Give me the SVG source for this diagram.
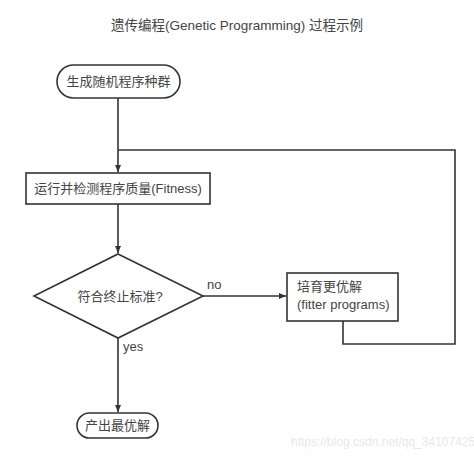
<svg xmlns="http://www.w3.org/2000/svg" width="474" height="459" viewBox="0 0 474 459">
<defs>
<style>
.shape{fill:#fff;stroke:#333;stroke-width:1.6}
.edge{fill:none;stroke:#333;stroke-width:1.6}
text{font-family:"Liberation Sans","Noto Sans CJK SC",sans-serif;font-size:13px;fill:#444}
.c{text-anchor:middle;dominant-baseline:central}
</style>
<marker id="arr" markerWidth="8" markerHeight="8" refX="7" refY="4" orient="auto" markerUnits="userSpaceOnUse">
<path d="M0,1 L7,4 L0,7 Z" fill="#333"/>
</marker>
</defs>
<rect width="474" height="459" fill="#fff"/>
<text x="237" y="25" class="c" style="font-size:13.5px">遗传编程(Genetic Programming) 过程示例</text>
<g id="edges">
<path class="edge" d="M118,98 L118,172" marker-end="url(#arr)"/>
<path class="edge" d="M118,204 L118,253" marker-end="url(#arr)"/>
<path class="edge" d="M203,296 L286,296" marker-end="url(#arr)"/>
<path class="edge" d="M118,338 L118,412" marker-end="url(#arr)"/>
<path class="edge" d="M343,321 L343,344 L455,344 L455,150 L118,150"/>
<text x="207" y="289">no</text>
<text x="123" y="351">yes</text>
</g>
<g id="start">
<rect class="shape" x="57" y="65" width="123" height="33" rx="16.5"/>
<text x="118.5" y="81.5" class="c">生成随机程序种群</text>
</g>
<g id="eval">
<rect class="shape" x="26" y="173" width="184" height="31"/>
<text x="118" y="188.5" class="c">运行并检测程序质量(Fitness)</text>
</g>
<g id="decision">
<polygon class="shape" points="118,254 203,296 118,338 34,296"/>
<text x="120" y="296" class="c">符合终止标准?</text>
</g>
<g id="breed">
<rect class="shape" x="287" y="273" width="111" height="48"/>
<text x="297" y="291">培育更优解</text>
<text x="297" y="309">(fitter programs)</text>
</g>
<g id="end">
<rect class="shape" x="77" y="413" width="81" height="25" rx="12.5"/>
<text x="117.5" y="425.5" class="c">产出最优解</text>
</g>
<text x="291" y="446" style="font-size:12px;fill:#e8e8e8">https://blog.csdn.net/qq_34107425</text>
</svg>
